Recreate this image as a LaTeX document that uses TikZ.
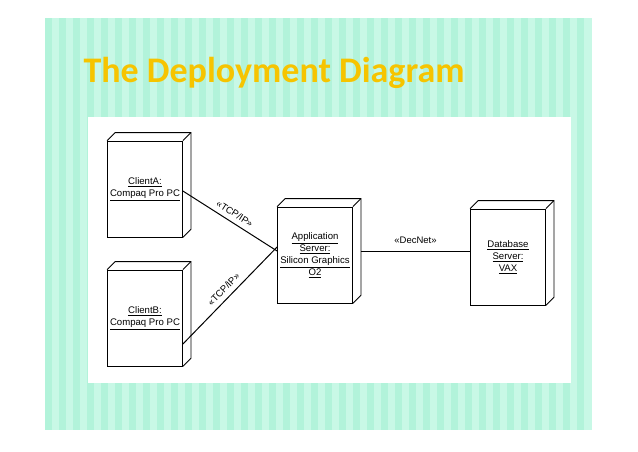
\documentclass[tikz,border=0pt]{standalone}
\usepackage{fontspec}
\setmainfont{Liberation Sans}
\newfontfamily\titlefont{Carlito}
\newcommand{\ul}[1]{\underline{#1}}
\begin{document}
\begin{tikzpicture}[x=1pt,y=-1pt,
  dnode/.style={draw,line width=0.8pt,fill=white,minimum width=75pt,minimum height=96pt,inner sep=0pt,align=center,font=\fontsize{9.6}{12}\selectfont},
  conn/.style={line width=1pt},
  lab/.style={font=\fontsize{9.5}{11}\selectfont,inner sep=1pt}]
\useasboundingbox (0,0) rectangle (638,451);
\fill[white] (0,0) rectangle (638,451);
\fill[fill={rgb,255:red,200;green,248;blue,230}] (45,18) rectangle (592,430);
\foreach \i in {0,...,38}{\fill[fill={rgb,255:red,178;green,243;blue,218}] (45+\i*14,18) rectangle (52+\i*14,430);}
\node (title) [anchor=base west,font=\titlefont\bfseries\fontsize{36}{40}\selectfont,text={rgb,255:red,246;green,196;blue,0}] at (80,82) {The Deployment Diagram};
\fill[white] (88,117) rectangle (571,383);
\foreach \n/\x/\y/\t in {ca/145/189/{\ul{ClientA:}\\\ul{Compaq Pro PC}},
                        cb/145/318/{\ul{ClientB:}\\\ul{Compaq Pro PC}},
                        app/315/255/{\ul{Application}\\\ul{Server:}\\\ul{Silicon Graphics}\\\ul{O2}},
                        db/508/257/{\ul{Database}\\\ul{Server:}\\\ul{VAX}}}{
  \node[dnode] (\n) at (\x,\y) {\t};
  \draw[line width=0.8pt] (\n.north west) -- ++(8,-8) -- ([shift={(8,-8)}]\n.north east) -- ([shift={(8,-8)}]\n.south east) -- (\n.south east);
  \draw[line width=0.8pt] (\n.north east) -- ++(8,-8);
}
\draw[conn] ([yshift=-2pt]ca.east) -- ([yshift=4pt]app.west) node[lab,midway,sloped,above=4pt] {«TCP/IP»};
\draw[conn] ([yshift=-26pt]cb.east) -- ([yshift=8pt]app.west) node[lab,midway,sloped,above=4pt] {«TCP/IP»};
\draw[conn] ([xshift=8pt,yshift=4pt]app.east) -- ([yshift=6pt]db.west) node[lab,midway,above=6pt] {«DecNet»};
\end{tikzpicture}
\end{document}
